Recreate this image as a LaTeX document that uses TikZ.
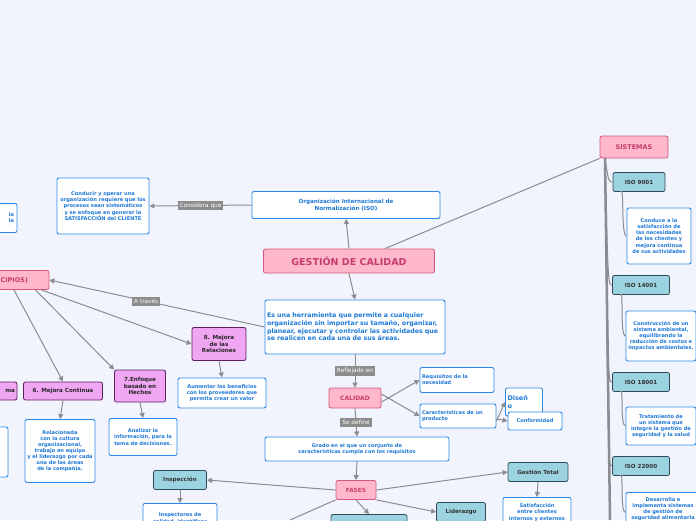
\documentclass[tikz,border=0pt]{standalone}
\usepackage{fontspec}
\setmainfont{DejaVu Sans}
\usetikzlibrary{arrows.meta}
\definecolor{bg}{HTML}{F2F4FD}
\definecolor{bluet}{HTML}{1E78D6}
\definecolor{blueb}{HTML}{2A88E6}
\definecolor{pinkf}{HTML}{FFB8CB}
\definecolor{pinkb}{HTML}{D4557E}
\definecolor{pinkt}{HTML}{C43D6C}
\definecolor{violf}{HTML}{F0A6F2}
\definecolor{violb}{HTML}{5B2060}
\definecolor{tealf}{HTML}{9CD3E0}
\definecolor{tealb}{HTML}{2F4B57}
\definecolor{linec}{HTML}{8A8C90}
\definecolor{labf}{HTML}{8C8C8C}
\newcommand{\nohy}{\hyphenpenalty=10000\exhyphenpenalty=10000\relax}
\tikzset{
 box/.style={draw=blueb,line width=0.9pt,fill=white,rounded corners=2pt,text=bluet,font=\fontsize{5.1}{6.1}\selectfont\bfseries\nohy,align=center,inner sep=2pt},
 pinkbox/.style={draw=pinkb,line width=0.8pt,fill=pinkf,rounded corners=2pt,text=pinkt,font=\fontsize{6.5}{8}\selectfont\bfseries,align=center},
 violbox/.style={draw=violb,line width=0.8pt,fill=violf,rounded corners=2pt,text=black!85,font=\fontsize{5.6}{6.6}\selectfont\bfseries,align=center,inner sep=1pt},
 tealbox/.style={draw=tealb,line width=0.8pt,fill=tealf,rounded corners=2pt,text=black!80,font=\fontsize{5.6}{6.6}\selectfont\bfseries,align=center},
 lab/.style={fill=labf,text=white,font=\fontsize{5.8}{6.5}\selectfont,inner sep=2pt},
 con/.style={draw=linec,line width=1pt},
 arr/.style={con,-{Triangle[length=5pt,width=5pt]}},
}
\begin{document}
\begin{tikzpicture}[x=1pt,y=-1pt]
\useasboundingbox[fill=bg] (0,0) rectangle (696,520);
% nodes
\node[pinkbox,minimum width=171,minimum height=24,font=\fontsize{9.5}{11}\selectfont\bfseries] (gc) at (349,261) {GESTIÓN DE CALIDAD};
\node[box,text width=184,minimum height=27,font=\fontsize{5.6}{6.8}\selectfont\bfseries] (iso) at (346,205) {Organización Internacional de\\Normalización (ISO)};
\node[box,text width=88,minimum height=56] (cond) at (103,206) {Conducir y operar una organización requiere que los procesos sean sistemáticos y se enfoque en generar la SATISFACCIÓN del CLIENTE};
\node[box,minimum width=50,minimum height=29,text width=44,align=right] (lc1) at (-8,218) {la\\la};
\node[pinkbox,minimum width=90,minimum height=19] (pri) at (4,280) {(PRINCIPIOS)};
\node[box,text width=176,minimum height=54,align=left,font=\fontsize{6.3}{7.6}\selectfont\bfseries\nohy] (her) at (355,327) {Es una herramienta que permite a cualquier organización sin importar su tamaño, organizar, planear, ejecutar y controlar las actividades que se realicen en cada una de sus áreas.};
\node[violbox,minimum width=54,minimum height=33,text width=50] (m8) at (219,344) {8. Mejora\\de las\\Relaciones};
\node[box,text width=84,minimum height=30] (aum) at (222,393) {Aumentar los beneficios con los proveedores que permita crear un valor};
\node[violbox,minimum width=51,minimum height=32,text width=48] (e7) at (140,386) {7.Enfoque\\basado en\\Hechos};
\node[box,text width=64,minimum height=37] (ana) at (143,437) {Analizar la información, para la toma de decisiones.};
\node[violbox,minimum width=79,minimum height=18] (m6) at (63,391) {6. Mejora Continua};
\node[box,text width=66,minimum height=63] (rel) at (60,451) {Relacionada con la cultura organizacional, trabajo en equipo y el liderazgo por cada una de las áreas de la compañía.};
\node[violbox,minimum width=50,minimum height=18,text width=46,align=right] (ma) at (-8,391) {ma};
\node[box,minimum width=40,minimum height=50] (lc2) at (-12,452) {};
\node[pinkbox,minimum width=52,minimum height=20,font=\fontsize{6}{7}\selectfont\bfseries] (cal) at (355,398) {CALIDAD};
\node[box,text width=70,minimum height=25,align=left] (req) at (457,380) {Requisitos de la necesidad};
\node[box,text width=72,minimum height=24,align=left] (car) at (458,416) {Características de un producto};
\node[box,text width=33,minimum height=28,align=left,font=\fontsize{6.5}{8}\selectfont\bfseries] (dis) at (524,402) {Diseñ\\o};
\node[box,text width=50,minimum height=18] (conf) at (535,421) {Conformidad};
\node[box,text width=180,minimum height=24] (gra) at (357,449) {Grado en el que un conjunto de características cumple con los requisitos};
\node[pinkbox,minimum width=40,minimum height=19,font=\fontsize{5.8}{7}\selectfont\bfseries] (fas) at (356,490) {FASES};
\node[tealbox,minimum width=60,minimum height=19] (gt) at (538,472) {Gestión Total};
\node[box,text width=64,minimum height=30,anchor=north] (sat) at (537,497) {Satisfacción entre clientes internos y externos};
\node[tealbox,minimum width=53,minimum height=19] (ins) at (180,480) {Inspección};
\node[box,text width=70,minimum height=30,anchor=north] (insp) at (180,503) {Inspectores de calidad, identificar};
\node[tealbox,minimum width=49,minimum height=19] (lid) at (461,512) {Liderazgo};
\node[tealbox,minimum width=76,minimum height=19] (bc) at (369,524) {};
\coordinate (fl) at (290,520);
\node[pinkbox,minimum width=68,minimum height=22,font=\fontsize{6.5}{8}\selectfont\bfseries] (sis) at (634,147) {SISTEMAS};
\node[tealbox,minimum width=52,minimum height=19] (i1) at (639,182) {ISO 9001};
\node[box,text width=60,minimum height=56] (d1) at (659,236) {Conduce a la satisfacción de las necesidades de los clientes y mejora continua de sus actividades};
\node[tealbox,minimum width=57,minimum height=19] (i2) at (641,285) {ISO 14001};
\node[box,text width=66,minimum height=50] (d2) at (661,336) {Construcción de un sistema ambiental, equilibrando la reducción de costos e impactos ambientales.};
\node[tealbox,minimum width=57,minimum height=19] (i3) at (641,382) {ISO 18001};
\node[box,text width=66,minimum height=38] (d3) at (661,426) {Tratamiento de un sistema que integre la gestión de seguridad y la salud};
\node[tealbox,minimum width=57,minimum height=19] (i4) at (641,466) {ISO 22000};
\node[box,text width=70,minimum height=40,anchor=north] (d4) at (663,492) {Desarrolla e implementa sistemas de gestión de seguridad alimentaria mejorando los procesos};
% connectors
\draw[arr] (gc.north) -- (iso.south);
\draw[arr] (iso.west) -- node[lab]{Considera que} (cond.east);
\draw[con] ([xshift=-50pt]gc.north east) -- (sis.south west);
\draw[arr] (gc.south) -- (her.north);
\draw[arr] (her.west) -- node[lab,pos=0.55]{A través} (pri.east);
\draw[arr] ([xshift=-8pt]pri.south east) -- (m8.west);
\draw[arr] ([xshift=-14pt]pri.south east) -- (e7.north west);
\draw[arr] ([xshift=10pt]pri.south) -- (m6.north);
\draw[con] ([xshift=-5pt]pri.south) -- (ma.north);
\draw[arr] (m8.south) -- (aum.north);
\draw[arr] (e7.south) -- (ana.north);
\draw[arr] (m6.south) -- (rel.north);
\draw[arr] (her.south) -- node[lab]{Reflejado en} (cal.north);
\draw[arr] ([yshift=-4pt]cal.east) -- (req.west);
\draw[arr] ([yshift=4pt]cal.east) -- (car.west);
\draw[arr] ([yshift=-5pt]car.east) -- (dis.west);
\draw[arr] ([yshift=-3pt]car.east) -- (conf.west);
\draw[arr] (cal.south) -- node[lab]{Se define} (gra.north);
\draw[arr] (gra.south) -- (fas.north);
\draw[arr] (fas.west) -- (ins.east);
\draw[arr] (fas.east) -- (gt.west);
\draw[arr] (fas.south east) -- (lid.west);
\draw[arr] (fas.south) -- (bc.north);
\draw[con] (fas.south west) -- (fl);
\draw[arr] (ins.south) -- (insp.north);
\draw[arr] (gt.south) -- (sat.north);
% sistemas trunk
\coordinate (tk) at (605,158);
\coordinate (tb) at (610,520);
\draw[draw=linec,line width=2.5pt] (tk) -- (tb);
\foreach \i/\d in {i1/d1,i2/d2,i3/d3,i4/d4}{
 \draw[con] (tk) .. controls ([xshift=-4pt]\i.west) and ([xshift=-4pt]\i.west) .. (\i.west);
 \draw[con] ([xshift=8pt]\i.south west) .. controls ([xshift=12pt,yshift=8pt]\i.south west) and ([xshift=-6pt]\d.west) .. (\d.west);
}
\end{tikzpicture}
\end{document}
